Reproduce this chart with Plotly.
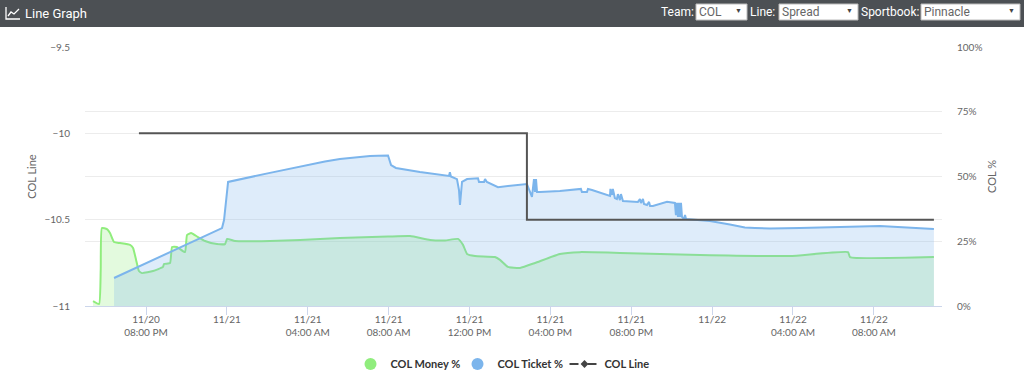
import plotly.graph_objects as go

# hours after 11/20 08:00 PM
money_hours = [-2.62,-2.32,-2.24,-2.18,-1.93,-1.78,-1.58,-1.29,-0.79,-0.64,-0.49,-0.35,-0.20,0.35,0.84,0.89,1.19,1.29,1.53,1.93,2.03,2.23,2.57,2.92,3.51,3.91,4.01,4.40,6.13,7.62,9.59,11.97,13.06,14.05,14.79,15.43,15.68,15.88,16.27,17.26,17.51,17.90,18.50,19.24,20.47,21.46,23.44,27.40,31.85,34.72,34.82,38.97]
money_pct = [1.9,0.8,13.9,30.1,29.7,28.2,24.7,24.3,23.6,22.4,17.8,13.5,12.7,13.5,15.1,16.2,16.6,22.8,22.8,20.8,27.4,28.2,26.6,25.1,23.9,23.9,25.9,25.1,25.1,25.5,26.3,26.8,27.0,25.5,25.3,25.9,23.6,20.1,19.3,18.9,17.8,15.1,14.7,16.6,20.1,20.8,20.5,19.7,19.3,20.8,18.9,18.9]

ticket_hours = [-1.58,3.76,3.86,4.01,4.06,6.13,7.02,7.96,8.85,9.59,10.34,11.08,11.47,11.97,12.12,12.36,13.55,14.79,14.99,15.03,15.08,15.38,15.48,15.53,15.58,15.63,15.88,16.42,16.47,16.72,16.77,16.86,17.41,18.84,19.09,19.19,19.24,19.29,19.34,19.48,20.47,21.51,21.56,21.81,21.86,22.06,22.95,22.97,23.05,23.09,23.19,23.29,23.34,23.44,23.49,23.59,24.33,24.43,24.48,24.58,24.63,24.78,24.88,24.93,25.07,25.77,26.16,26.21,26.26,26.31,26.36,26.41,26.46,26.51,26.61,26.66,26.71,27.15,27.89,28.88,29.62,30.12,30.86,32.34,36.30,38.97]
ticket_pct = [10.8,30.1,33.2,45.9,47.9,51.4,52.9,54.4,55.8,56.8,57.5,57.9,58.0,58.1,54.4,53.3,51.7,50.2,50.2,51.7,50.0,49.0,44.8,39.0,44.8,47.9,49.0,49.3,47.9,47.9,49.0,47.9,45.9,47.1,42.1,49.0,44.0,49.0,44.0,44.0,44.4,45.2,44.0,44.0,45.2,44.8,42.5,45.2,42.9,45.2,41.7,41.3,43.2,40.9,43.2,40.5,40.2,41.3,39.8,41.3,39.4,39.0,40.2,38.6,38.6,40.2,39.8,35.1,39.8,34.4,39.8,34.4,39.8,34.4,33.6,35.1,33.6,33.2,32.8,31.5,30.3,30.1,29.9,30.1,30.9,29.7]

line_hours = [-0.35, 18.84, 38.97]
line_values = [-10, -10.5, -10.5]

x_ticks = [0, 4, 8, 12, 16, 20, 24, 28, 32, 36]
x_labels = ["11/20<br>08:00 PM","11/21<br>","11/21<br>04:00 AM","11/21<br>08:00 AM","11/21<br>12:00 PM",
            "11/21<br>04:00 PM","11/21<br>08:00 PM","11/22<br>","11/22<br>04:00 AM","11/22<br>08:00 AM"]
pct_ticks = [0, 25, 50, 75, 100]
pct_labels = ["0%", "25%", "50%", "75%", "100%"]
line_ticks = [-11, -10.5, -10, -9.5]
line_labels = ["\u221211", "\u221210.5", "\u221210", "\u22129.5"]

W, H = 1024, 382
L, R, T, B = 85, 942, 47, 306
FONT = "Lato"
HEAD = "Roboto"
def px(x): return (x - L) / (R - L)
def py(y): return (B - y) / (B - T)

fig = go.Figure()
fig.add_trace(go.Scatter(x=money_hours, y=money_pct, mode="lines", showlegend=False, hoverinfo="skip",
    line=dict(color="#90ed7d", width=2, shape="spline", smoothing=0.4), fill="tozeroy", fillcolor="rgba(144,237,125,0.25)"))
fig.add_trace(go.Scatter(x=ticket_hours, y=ticket_pct, mode="lines", showlegend=False, hoverinfo="skip",
    line=dict(color="#7cb5ec", width=2), fill="tozeroy", fillcolor="rgba(124,181,236,0.25)"))
fig.add_trace(go.Scatter(x=line_hours, y=line_values, yaxis="y2", mode="lines", showlegend=False, hoverinfo="skip",
    line=dict(color="#555555", width=2, shape="hv")))
# legend entries
fig.add_trace(go.Scatter(x=[None], y=[None], mode="markers", name="COL Money %", marker=dict(color="#90ed7d", size=12)))
fig.add_trace(go.Scatter(x=[None], y=[None], mode="markers", name="COL Ticket %", marker=dict(color="#7cb5ec", size=12)))
fig.add_trace(go.Scatter(x=[None], y=[None], mode="lines+markers", name="COL Line",
    line=dict(color="#444444", width=2, dash="dash"), marker=dict(color="#444444", size=6, symbol="diamond")))

shapes = [
    dict(type="rect", xref="paper", yref="paper", x0=px(0), x1=px(W), y0=py(27), y1=py(0),
         fillcolor="#4c5054", line=dict(width=0), layer="above"),
    dict(type="path", xref="paper", yref="paper", layer="above", line=dict(color="white", width=1.3),
         path=f"M {px(6)} {py(7)} L {px(6)} {py(19)} L {px(20)} {py(19)} M {px(8)} {py(16)} L {px(11)} {py(12)} L {px(14)} {py(14)} L {px(19)} {py(9)}"),
]
for x0, x1 in [(696, 747), (779, 858), (921, 1020)]:
    shapes.append(dict(type="rect", xref="paper", yref="paper", x0=px(x0), x1=px(x1), y0=py(20), y1=py(4),
                       fillcolor="white", line=dict(color="#bbbbbb", width=1), layer="above"))

def note(x, y, text, color, size=12, anchor="left"):
    return dict(xref="paper", yref="paper", x=px(x), y=py(y), text=text, showarrow=False, xanchor=anchor,
                yanchor="middle", font=dict(family=HEAD, size=size, color=color), borderpad=0, borderwidth=0)

annotations = [
    note(25, 13.5, "Line Graph", "white", 13),
    note(661, 12, "Team:", "white", 12),
    note(699, 12, "COL", "#666666", 12),
    note(735, 11.5, "\u25bc", "#444444", 7),
    note(750, 12, "Line:", "white", 12),
    note(782, 12, "Spread", "#666666", 12),
    note(846, 11.5, "\u25bc", "#444444", 7),
    note(861, 12, "Sportbook:", "white", 12),
    note(924, 12, "Pinnacle", "#666666", 12),
    note(1008, 11.5, "\u25bc", "#444444", 7),
]

fig.update_layout(
    width=W, height=H, autosize=False, paper_bgcolor="white", plot_bgcolor="white",
    margin=dict(l=L, r=W - R, t=T, b=H - B, pad=0),
    font=dict(family=FONT, size=11, color="#666666"),
    shapes=shapes, annotations=annotations,
    xaxis=dict(range=[-3.017, 39.37], tickmode="array", tickvals=x_ticks, ticktext=x_labels, showgrid=False,
               zeroline=False, showline=True, linecolor="#ccd6eb", linewidth=1, ticks="outside", ticklen=8,
               tickcolor="#ccd6eb", ticklabelstandoff=-4, tickfont=dict(size=10, color="#666666")),
    yaxis=dict(side="right", range=[0, 100], tickmode="array", tickvals=pct_ticks, ticktext=pct_labels,
               gridcolor="#ececec", zeroline=False, ticks="", ticklabelstandoff=14,
               title=dict(text="COL %", standoff=6, font=dict(size=11, color="#666666")),
               tickfont=dict(size=10, color="#666666")),
    yaxis2=dict(side="left", overlaying="y", range=[-11, -9.5], tickmode="array", tickvals=line_ticks, ticktext=line_labels,
                gridcolor="#ececec", showgrid=True, zeroline=False, ticks="", ticklabelstandoff=14,
                title=dict(text="COL Line", standoff=5, font=dict(size=11, color="#666666")),
                tickfont=dict(size=10, color="#666666")),
    legend=dict(orientation="h", xref="container", yref="container", xanchor="center", x=511 / W, yanchor="middle",
                y=(H - 364) / H, entrywidth=62, entrywidthmode="pixels",
                font=dict(family=FONT, size=11, color="#333333", weight="bold"), bgcolor="rgba(0,0,0,0)"),
)
fig.write_html("out.html", config=dict(displayModeBar=False),
               post_script="document.body.style.margin='0';document.body.style.overflow='hidden';")
